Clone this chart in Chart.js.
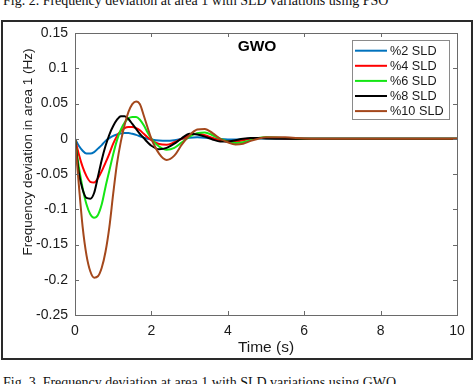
<!DOCTYPE html>
<html>
<head>
<meta charset="utf-8">
<script src="https://cdn.jsdelivr.net/npm/chart.js@4.4.1/dist/chart.umd.min.js"></script>
<style>
  html, body { margin:0; padding:0; background:#fff; }
  body { width:474px; height:384px; position:relative; overflow:hidden; }
  .cap { position:absolute; left:3px; font-family:"Liberation Serif","Times New Roman",serif; font-size:14px; line-height:14px; color:#111; white-space:nowrap; }
  #frameBox { position:absolute; left:1px; top:20px; width:468px; height:336px; border:2px solid #2a2a2a; }
  #wrap { position:absolute; left:0; top:0; width:474px; height:384px; }
</style>
</head>
<body>
<div class="cap" style="top:-6px;">Fig. 2. Frequency deviation at area 1 with SLD variations using PSO</div>
<div id="frameBox"></div>
<div class="cap" style="top:376px;">Fig. 3. Frequency deviation at area 1 with SLD variations using GWO</div>
<div id="wrap"><canvas id="c" width="474" height="384"></canvas></div>
<script>
// ---- data ----
const timeS = [0,0.1,0.2,0.3,0.4,0.5,0.6,0.7,0.8,0.9,1.0,1.1,1.2,1.3,1.4,1.5,1.6,1.7,1.8,1.9,2.0,2.2,2.4,2.6,2.8,3.0,3.2,3.4,3.6,3.8,4.0,4.2,4.4,4.6,4.8,5.0,5.5,6,7,8,9,10];
const sld2  = [0,-0.010,-0.017,-0.021,-0.021,-0.019,-0.014,-0.009,-0.003,0.001,0.004,0.006,0.0075,0.008,0.008,0.007,0.0055,0.0035,0.0015,0.0,-0.001,-0.0025,-0.003,-0.002,0.0,0.0015,0.002,0.0015,0.0005,-0.0005,-0.001,-0.001,-0.0005,0,0.0003,0.0005,0.0003,0,0,0,0,0];
const sld4  = [0,-0.022,-0.040,-0.053,-0.061,-0.062,-0.056,-0.046,-0.034,-0.021,-0.007,0.004,0.011,0.015,0.0165,0.0166,0.015,0.012,0.007,0.002,-0.002,-0.0075,-0.0085,-0.005,0.0,0.005,0.007,0.005,0.001,-0.002,-0.004,-0.004,-0.002,0.0,0.001,0.0015,0.0005,0,0,0,0,0];
const sld6  = [0,-0.040,-0.070,-0.093,-0.107,-0.112,-0.108,-0.093,-0.068,-0.045,-0.022,-0.002,0.013,0.023,0.029,0.031,0.031,0.027,0.019,0.009,0.0,-0.011,-0.0155,-0.013,-0.005,0.003,0.008,0.009,0.005,0.0,-0.004,-0.006,-0.005,-0.002,0.001,0.002,0.001,0,0,0,0,0];
const sld8  = [0,-0.048,-0.072,-0.084,-0.085,-0.077,-0.054,-0.030,-0.010,0.006,0.018,0.027,0.032,0.032,0.028,0.021,0.014,0.007,0.001,-0.005,-0.010,-0.015,-0.013,-0.007,0.001,0.007,0.006,0.003,-0.001,-0.004,-0.004,-0.002,0.0,0.001,0.001,0.0005,0,0,0,0,0,0];
const sld10 = [0,-0.065,-0.125,-0.165,-0.188,-0.197,-0.195,-0.183,-0.160,-0.125,-0.078,-0.035,-0.004,0.020,0.038,0.049,0.053,0.049,0.033,0.016,0.0,-0.021,-0.030,-0.024,-0.008,0.005,0.013,0.014,0.008,0.0,-0.005,-0.008,-0.007,-0.003,0.0,0.002,0.002,0.0005,0,0,0,0];
const seriesLabels = ['%2 SLD','%4 SLD','%6 SLD','%8 SLD','%10 SLD'];
const seriesColors = ['#0072BD','#FF0000','#14E614','#000000','#A4481C'];
const xTicks = [0,2,4,6,8,10];
const xTickLabels = ['0','2','4','6','8','10'];
const yTicks = [-0.25,-0.2,-0.15,-0.1,-0.05,0,0.05,0.1,0.15];
const yTickLabels = ['-0.25','-0.2','-0.15','-0.1','-0.05','0','0.05','0.1','0.15'];
const xTitle = 'Time (s)';
const yTitle = 'Frequency deviation in area 1 (Hz)';
const plotTitle = 'GWO';

const allSeries = [sld2, sld4, sld6, sld8, sld10];
const FONT = '"Liberation Sans", Arial, sans-serif';

const datasets = allSeries.map((arr, i) => ({
  label: seriesLabels[i],
  data: timeS.map((t, k) => ({x: t, y: arr[k]})),
  borderColor: seriesColors[i],
  backgroundColor: seriesColors[i],
  borderWidth: 2,
  pointRadius: 0,
  cubicInterpolationMode: 'monotone',
  fill: false,
  order: allSeries.length - 1 - i
}));

const decor = {
  id: 'decor',
  afterDraw(chart) {
    const ctx = chart.ctx;
    const a = chart.chartArea;
    const xs = chart.scales.x, ys = chart.scales.y;
    ctx.save();
    // axes box
    ctx.strokeStyle = '#6a6a6a';
    ctx.lineWidth = 1;
    ctx.strokeRect(Math.round(a.left) + 0.5, Math.round(a.top) + 0.5, Math.round(a.right - a.left), Math.round(a.bottom - a.top));
    // inward ticks
    ctx.beginPath();
    xTicks.forEach(v => {
      const px = Math.round(xs.getPixelForValue(v)) + 0.5;
      ctx.moveTo(px, a.bottom); ctx.lineTo(px, a.bottom - 4);
      ctx.moveTo(px, a.top); ctx.lineTo(px, a.top + 4);
    });
    yTicks.forEach(v => {
      const py = Math.round(ys.getPixelForValue(v)) + 0.5;
      ctx.moveTo(a.left, py); ctx.lineTo(a.left + 4, py);
      ctx.moveTo(a.right, py); ctx.lineTo(a.right - 4, py);
    });
    ctx.stroke();
    // axis titles
    ctx.fillStyle = '#1a1a1a';
    ctx.font = '15.5px ' + FONT;
    ctx.textAlign = 'center';
    ctx.textBaseline = 'middle';
    ctx.fillText(xTitle, (a.left + a.right) / 2, 348);
    ctx.save();
    ctx.translate(28, 152);
    ctx.rotate(-Math.PI / 2);
    ctx.font = '13.5px ' + FONT;
    ctx.fillText(yTitle, 0, 0);
    ctx.restore();
    // plot title
    ctx.font = 'bold 15.5px ' + FONT;
    ctx.fillStyle = '#000';
    ctx.fillText(plotTitle, 257, 47);
    // legend
    const lx = 352, ly = 40, lw = 97, lh = 79;
    ctx.fillStyle = '#fff';
    ctx.fillRect(lx, ly, lw, lh);
    ctx.strokeStyle = '#8a8a8a';
    ctx.lineWidth = 1;
    ctx.strokeRect(lx + 0.5, ly + 0.5, lw, lh);
    ctx.font = '12.7px ' + FONT;
    ctx.textAlign = 'left';
    ctx.textBaseline = 'middle';
    chart.data.datasets.forEach((ds, i) => {
      const yy = 50.7 + i * 15.1;
      ctx.strokeStyle = ds.borderColor;
      ctx.lineWidth = 2;
      ctx.beginPath();
      ctx.moveTo(355, yy); ctx.lineTo(387, yy);
      ctx.stroke();
      ctx.fillStyle = '#1a1a1a';
      ctx.fillText(ds.label, 390, yy + 0.5);
    });
    ctx.restore();
  }
};

new Chart(document.getElementById('c'), {
  type: 'line',
  data: { datasets },
  options: {
    responsive: false,
    animation: false,
    devicePixelRatio: 1,
    layout: { padding: { top: 33, right: 17, bottom: 0, left: 0 } },
    plugins: { legend: { display: false }, tooltip: { enabled: false } },
    scales: {
      x: {
        type: 'linear', min: 0, max: 10,
        afterBuildTicks: s => { s.ticks = xTicks.map(v => ({value: v})); },
        afterFit: s => { s.height = 69; },
        grid: { display: false, drawTicks: false },
        border: { display: false },
        ticks: {
          padding: 8, color: '#1a1a1a', font: { size: 14, family: FONT },
          maxRotation: 0, autoSkip: false,
          callback: (v) => xTickLabels[xTicks.indexOf(v)]
        }
      },
      y: {
        type: 'linear', min: -0.25, max: 0.15,
        afterBuildTicks: s => { s.ticks = yTicks.map(v => ({value: v})); },
        afterFit: s => { s.width = 75; },
        grid: { display: false, drawTicks: false },
        border: { display: false },
        ticks: {
          padding: 7, color: '#1a1a1a', font: { size: 14, family: FONT },
          autoSkip: false,
          callback: (v) => { const k = yTicks.findIndex(t => Math.abs(t - v) < 1e-9); return k >= 0 ? yTickLabels[k] : ''; }
        }
      }
    }
  },
  plugins: [decor]
});
</script>
</body>
</html>
